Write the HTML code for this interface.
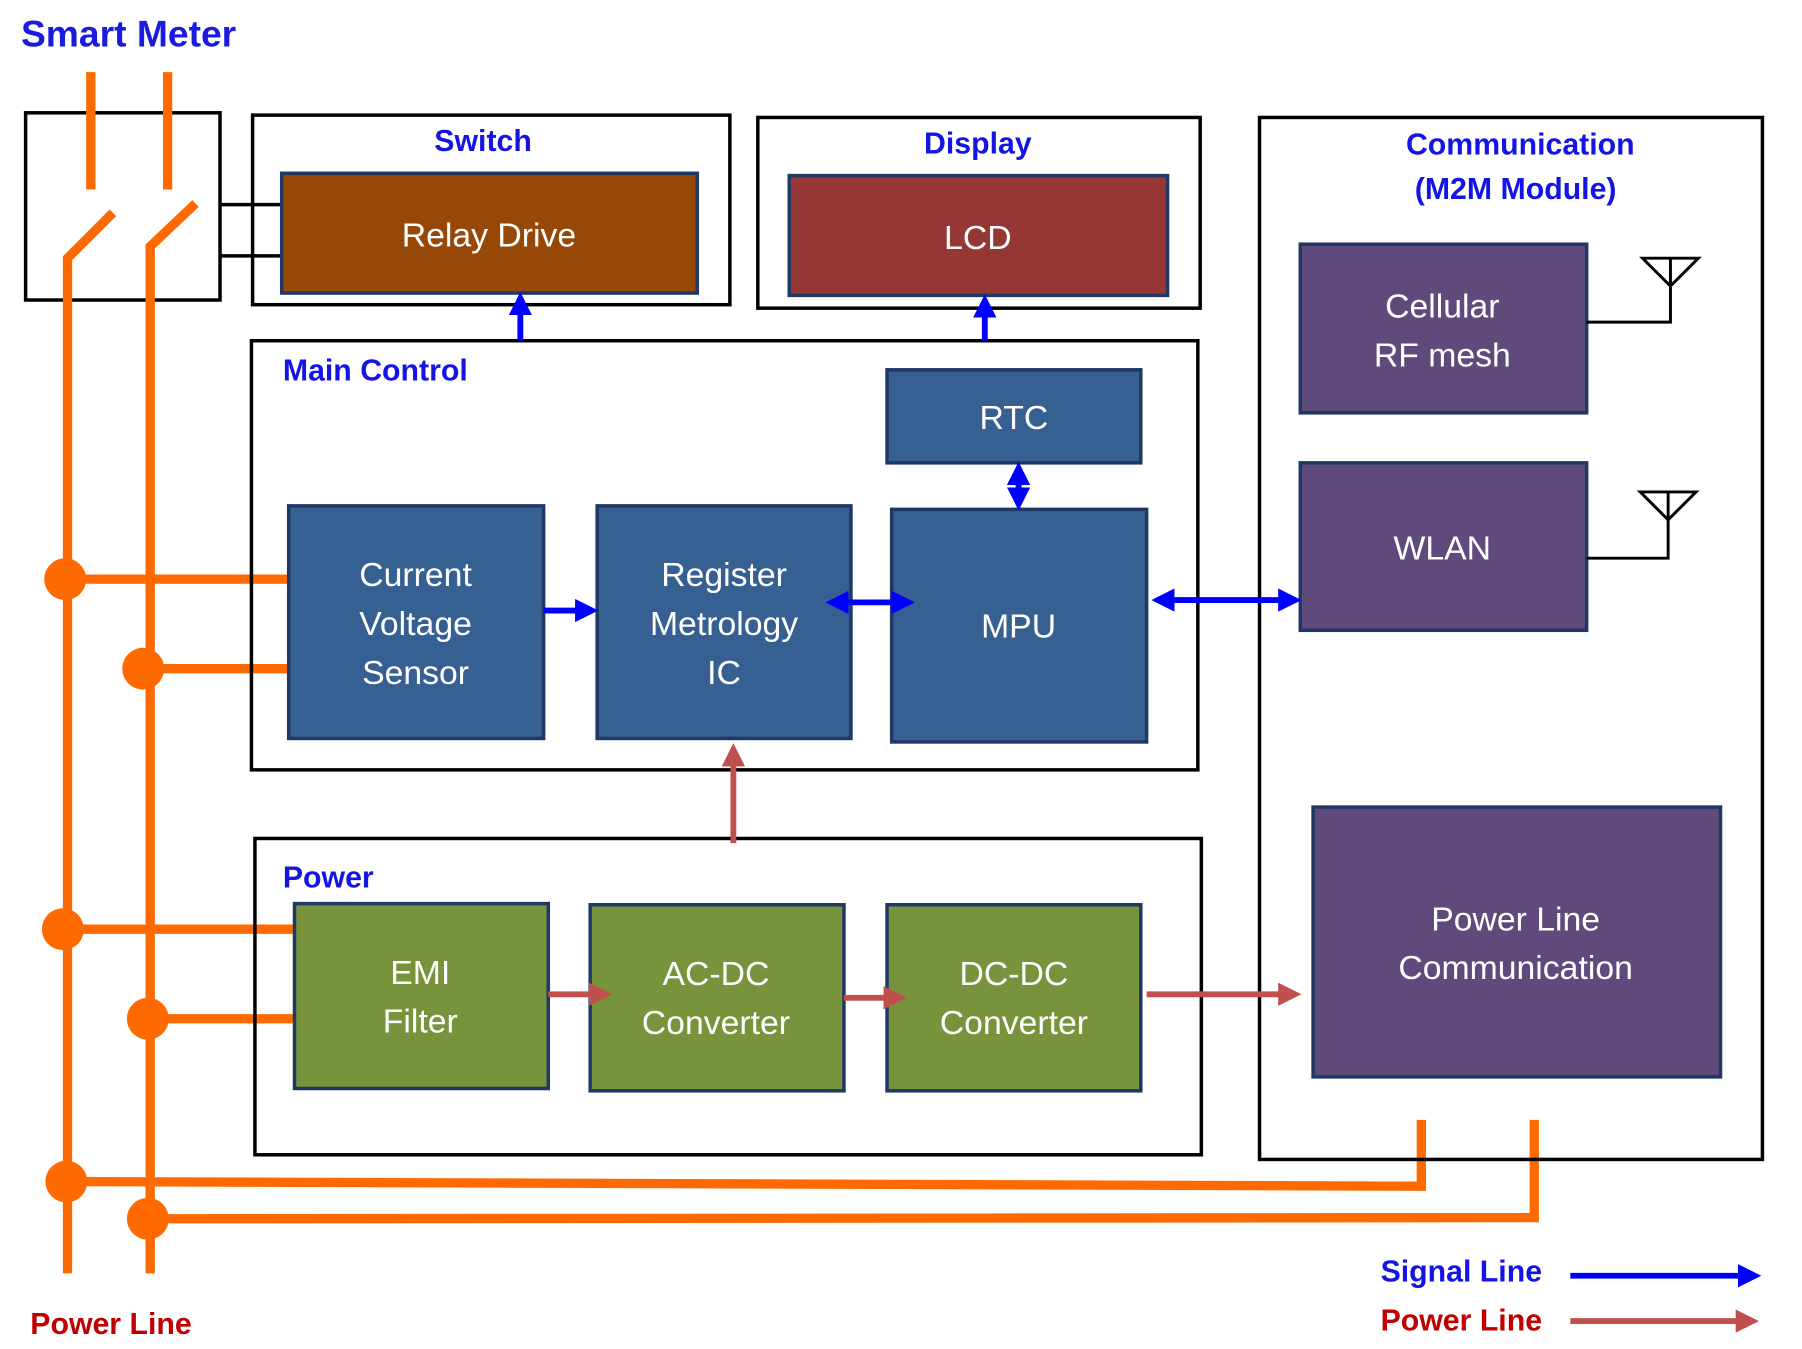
<!DOCTYPE html>
<html><head><meta charset="utf-8"><style>
html,body{margin:0;padding:0;background:#fff;}
svg{display:block;}
text{font-family:"Liberation Sans",sans-serif;}
.lb{font-weight:bold;fill:#1414e6;font-size:26px;}
.bt{fill:#fff;font-size:29px;text-anchor:middle;}
</style></head><body>
<svg width="1802" height="1349" viewBox="0 0 1548 1160" preserveAspectRatio="none" xmlns="http://www.w3.org/2000/svg">
<defs>
<marker id="ab" markerWidth="4" markerHeight="4" refX="3" refY="2" orient="auto-start-reverse" markerUnits="strokeWidth"><path d="M0,0 L4,2 L0,4 z" fill="#0000ff"/></marker>
<marker id="ar" markerWidth="4" markerHeight="4" refX="3" refY="2" orient="auto-start-reverse" markerUnits="strokeWidth"><path d="M0,0 L4,2 L0,4 z" fill="#c0504d"/></marker>
</defs>
<text x="18" y="40" font-size="32" font-weight="bold" fill="#1a1ae0">Smart Meter</text>
<rect x="22" y="97" width="167" height="161" fill="none" stroke="#000" stroke-width="3"/>
<line x1="189" y1="176" x2="242" y2="176" stroke="#000" stroke-width="3"/>
<line x1="189" y1="220" x2="242" y2="220" stroke="#000" stroke-width="3"/>
<g stroke="#ff6a00" stroke-width="8" fill="none">
<line x1="78" y1="62" x2="78" y2="163"/><line x1="144" y1="62" x2="144" y2="163"/>
<polyline points="97,183 58,222 58,1095"/><polyline points="168,175 129,212 129,1095"/>
<line x1="56" y1="498" x2="248" y2="498"/><line x1="123" y1="575" x2="248" y2="575"/>
<line x1="54" y1="799" x2="253" y2="799"/><line x1="127" y1="876" x2="253" y2="876"/>
<polyline points="57,1016 1221,1020 1221,963"/><polyline points="127,1048 1318,1047 1318,963"/>
</g>
<g fill="#ff6a00"><circle cx="56" cy="498" r="18"/><circle cx="123" cy="575" r="18"/><circle cx="54" cy="799" r="18"/><circle cx="127" cy="876" r="18"/><circle cx="57" cy="1016" r="18"/><circle cx="127" cy="1048" r="18"/></g>
<g fill="none" stroke="#000" stroke-width="3">
<rect x="217" y="99" width="410" height="163"/><rect x="651" y="101" width="380" height="164"/>
<rect x="1082" y="101" width="432" height="896"/><rect x="216" y="293" width="813" height="369"/>
<rect x="219" y="721" width="813" height="272"/>
</g>
<text class="lb" x="415" y="130" text-anchor="middle">Switch</text>
<text class="lb" x="840" y="132" text-anchor="middle">Display</text>
<text class="lb" x="1306" y="133" text-anchor="middle">Communication</text>
<text class="lb" x="1302" y="171" text-anchor="middle">(M2M Module)</text>
<text class="lb" x="243" y="327">Main Control</text>
<text class="lb" x="243" y="763">Power</text>
<g stroke="#1f3864" stroke-width="3">
<rect x="242" y="149" width="357" height="103" fill="#974806"/>
<rect x="678" y="151" width="325" height="103" fill="#953735"/>
<rect x="1117" y="210" width="246" height="145" fill="#604a7b"/>
<rect x="1117" y="398" width="246" height="144" fill="#604a7b"/>
<rect x="1128" y="694" width="350" height="232" fill="#604a7b"/>
<rect x="762" y="318" width="218" height="80" fill="#376092"/>
<rect x="766" y="438" width="219" height="200" fill="#376092"/>
<rect x="513" y="435" width="218" height="200" fill="#376092"/>
<rect x="248" y="435" width="219" height="200" fill="#376092"/>
<rect x="253" y="777" width="218" height="159" fill="#77933c"/>
<rect x="507" y="778" width="218" height="160" fill="#77933c"/>
<rect x="762" y="778" width="218" height="160" fill="#77933c"/>
</g>
<text class="bt" x="420" y="212">Relay Drive</text>
<text class="bt" x="840" y="214">LCD</text>
<text class="bt" x="1239" y="273">Cellular</text><text class="bt" x="1239" y="315">RF mesh</text>
<text class="bt" x="1239" y="481">WLAN</text>
<text class="bt" x="1302" y="800">Power Line</text><text class="bt" x="1302" y="842">Communication</text>
<text class="bt" x="871" y="369">RTC</text>
<text class="bt" x="875" y="548">MPU</text>
<text class="bt" x="622" y="504">Register</text><text class="bt" x="622" y="546">Metrology</text><text class="bt" x="622" y="588">IC</text>
<text class="bt" x="357" y="504">Current</text><text class="bt" x="357" y="546">Voltage</text><text class="bt" x="357" y="588">Sensor</text>
<text class="bt" x="361" y="846">EMI</text><text class="bt" x="361" y="888">Filter</text>
<text class="bt" x="615" y="847">AC-DC</text><text class="bt" x="615" y="889">Converter</text>
<text class="bt" x="871" y="847">DC-DC</text><text class="bt" x="871" y="889">Converter</text>
<g stroke="#000" stroke-width="2.5" fill="none">
<polyline points="1363,277 1435,277 1435,222"/><polygon points="1411,222 1459,222 1435,246"/>
<polyline points="1363,480 1433,480 1433,423"/><polygon points="1409,423 1457,423 1433,447"/>
</g>
<g stroke="#0000ff" stroke-width="5" fill="none">
<line x1="447" y1="293" x2="447" y2="256" marker-end="url(#ab)"/>
<line x1="846" y1="293" x2="846" y2="258" marker-end="url(#ab)"/>
<line x1="875" y1="402" x2="875" y2="434" marker-start="url(#ab)" marker-end="url(#ab)"/>
<line x1="467" y1="525" x2="509" y2="525" marker-end="url(#ab)"/>
<line x1="714" y1="518" x2="781" y2="518" marker-start="url(#ab)" marker-end="url(#ab)"/>
<line x1="994" y1="516" x2="1113" y2="516" marker-start="url(#ab)" marker-end="url(#ab)"/>
<line x1="1349" y1="1097" x2="1508" y2="1097" marker-end="url(#ab)"/>
</g>
<g stroke="#c0504d" stroke-width="5" fill="none">
<line x1="630" y1="725" x2="630" y2="644" marker-end="url(#ar)"/>
<line x1="471" y1="855" x2="521" y2="855" marker-end="url(#ar)"/>
<line x1="725" y1="858" x2="774" y2="858" marker-end="url(#ar)"/>
<line x1="985" y1="855" x2="1113" y2="855" marker-end="url(#ar)"/>
<line x1="1349" y1="1136" x2="1506" y2="1136" marker-end="url(#ar)"/>
</g>
<text x="26" y="1147" font-size="26" font-weight="bold" fill="#c00000">Power Line</text>
<text x="1186" y="1102" font-size="26" font-weight="bold" fill="#1414e6">Signal Line</text>
<text x="1186" y="1144" font-size="26" font-weight="bold" fill="#c00000">Power Line</text>
</svg>
</body></html>
